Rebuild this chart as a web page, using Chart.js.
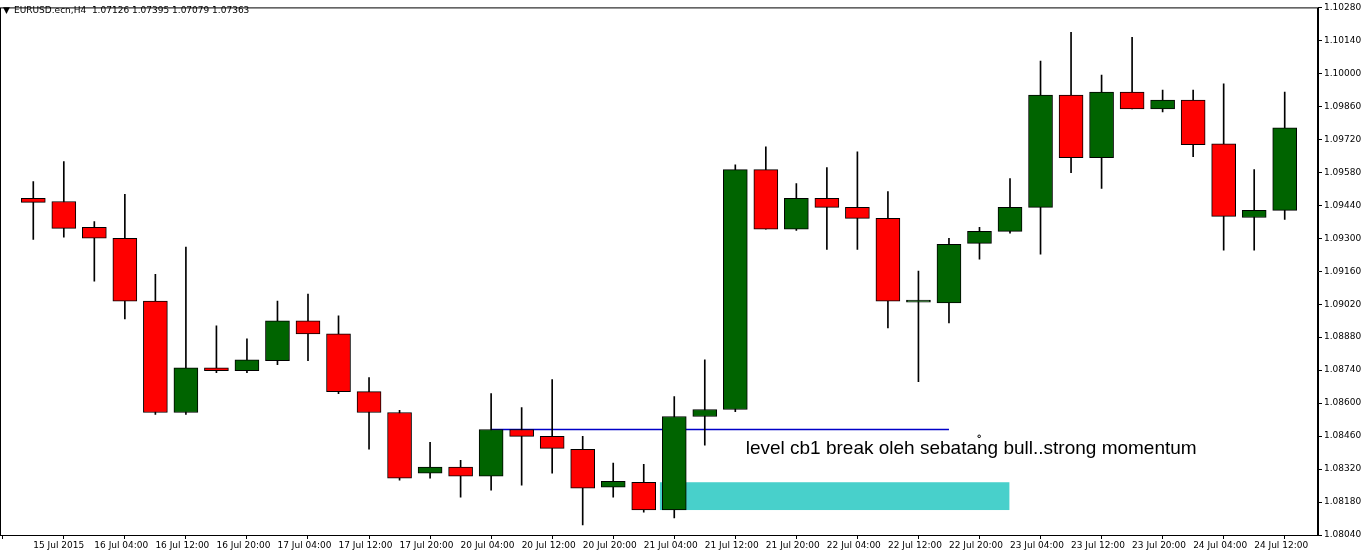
<!DOCTYPE html>
<html><head><meta charset="utf-8">
<script src="https://cdn.jsdelivr.net/npm/chart.js@4"></script>
<style>html,body{margin:0;padding:0;background:#fff}#w{width:1362px;height:557px}</style>
</head><body><div id="w"><canvas id="c"></canvas></div>
<script>
const openP  = [1.09469,1.09456,1.09346,1.09300,1.09033,1.08560,1.08750,1.08738,1.08780,1.08949,1.08894,1.08649,1.08560,1.08302,1.08328,1.08290,1.08488,1.08459,1.08404,1.08243,1.08264,1.08146,1.08543,1.08573,1.09591,1.09338,1.09469,1.09431,1.09384,1.09029,1.09025,1.09278,1.09329,1.09431,1.09908,1.09642,1.09921,1.09849,1.09887,1.09701,1.09388,1.09418];
const closeP = [1.09452,1.09342,1.09300,1.09033,1.08560,1.08750,1.08738,1.08784,1.08949,1.08894,1.08649,1.08560,1.08281,1.08328,1.08290,1.08488,1.08459,1.08408,1.08239,1.08268,1.08146,1.08543,1.08573,1.09591,1.09338,1.09469,1.09431,1.09384,1.09033,1.09033,1.09274,1.09329,1.09431,1.09908,1.09642,1.09921,1.09849,1.09887,1.09697,1.09393,1.09418,1.09769];
const highP  = [1.09540,1.09625,1.09371,1.09486,1.09147,1.09262,1.08928,1.08873,1.09033,1.09063,1.08970,1.08708,1.08569,1.08433,1.08357,1.08640,1.08581,1.08700,1.08459,1.08345,1.08340,1.08628,1.08784,1.09612,1.09688,1.09532,1.09600,1.09667,1.09498,1.09160,1.09300,1.09346,1.09553,1.10052,1.10174,1.09993,1.10153,1.09929,1.09929,1.09955,1.09591,1.09921];
const lowP   = [1.09295,1.09304,1.09118,1.08957,1.08552,1.08552,1.08729,1.08729,1.08763,1.08780,1.08640,1.08404,1.08273,1.08281,1.08201,1.08230,1.08252,1.08302,1.08083,1.08201,1.08137,1.08112,1.08421,1.08564,1.09338,1.09333,1.09253,1.09253,1.08919,1.08691,1.08940,1.09211,1.09321,1.09232,1.09578,1.09511,1.09849,1.09836,1.09646,1.09249,1.09249,1.09380];
const timeLabels = ["15 Jul 2015","16 Jul 04:00","16 Jul 12:00","16 Jul 20:00","17 Jul 04:00","17 Jul 12:00","17 Jul 20:00","20 Jul 04:00","20 Jul 12:00","20 Jul 20:00","21 Jul 04:00","21 Jul 12:00","21 Jul 20:00","22 Jul 04:00","22 Jul 12:00","22 Jul 20:00","23 Jul 04:00","23 Jul 12:00","23 Jul 20:00","24 Jul 04:00","24 Jul 12:00"];
const priceTicks = [1.08040,1.08180,1.08320,1.08460,1.08600,1.08740,1.08880,1.09020,1.09160,1.09300,1.09440,1.09580,1.09720,1.09860,1.10000,1.10140,1.10280];
const levelPrice = 1.08488, levelFrom = 15, levelTo = 30;
const zoneTop = 1.08264, zoneBottom = 1.08146, zoneFrom = 20.53, zoneTo = 31.98;
const noteText = "level cb1 break oleh sebatang bull..strong momentum";
const titleText = "EURUSD.ecn,H4  1.07126 1.07395 1.07079 1.07363";

const bodies = openP.map((o,i)=>({x:i,y:[o,closeP[i]]}));
const wicks = highP.map((h,i)=>({x:i,y:[lowP[i],h]}));
const bodyColors = openP.map((o,i)=>closeP[i]>=o?'#006400':'#ff0000');

const deco = {
  id:'deco',
  beforeDatasetsDraw(ch){
    const c=ch.ctx,x=ch.scales.x,y=ch.scales.y;
    c.save();
    c.fillStyle='#48d0cb';
    c.fillRect(x.getPixelForValue(zoneFrom),y.getPixelForValue(zoneTop),x.getPixelForValue(zoneTo)-x.getPixelForValue(zoneFrom),y.getPixelForValue(zoneBottom)-y.getPixelForValue(zoneTop));
    c.strokeStyle='#0000c8';c.lineWidth=1.5;
    const ly=Math.round(y.getPixelForValue(levelPrice))+0.5;
    c.beginPath();c.moveTo(x.getPixelForValue(levelFrom),ly);c.lineTo(x.getPixelForValue(levelTo),ly);c.stroke();
    c.restore();
  },
  afterDraw(ch){
    const c=ch.ctx,a=ch.chartArea,x=ch.scales.x,y=ch.scales.y;
    c.save();
    c.strokeStyle='#000';c.lineWidth=1;
    c.strokeRect(a.left+0.5,a.top+0.5,a.right-a.left-1,a.bottom-a.top);
    c.fillStyle='#000';c.font='19px "Liberation Sans", Arial';c.textBaseline='middle';
    c.fillText(noteText,x.getPixelForValue(23.34),y.getPixelForValue(1.08404));
    c.beginPath();c.arc(x.getPixelForValue(30.99),y.getPixelForValue(1.08459),1.3,0,Math.PI*2);c.stroke();
    c.font='9px "DejaVu Sans", Tahoma';c.textBaseline='middle';
    c.fillText('\u25BC',3,11);
    c.fillText(titleText,14,11);
    c.restore();
  }
};

new Chart(document.getElementById('c'),{
  type:'bar',
  data:{datasets:[
    {data:bodies,backgroundColor:bodyColors,borderColor:'#000',borderWidth:1,borderSkipped:false,barThickness:24,minBarLength:2,order:0},
    {data:wicks,backgroundColor:'#000',borderWidth:0,barThickness:1,order:1}
  ]},
  options:{
    responsive:true,maintainAspectRatio:false,animation:false,
    layout:{padding:{top:5,left:0,right:0,bottom:0}},
    plugins:{legend:{display:false},tooltip:{enabled:false}},
    datasets:{bar:{grouped:false}},
    scales:{
      x:{type:'linear',min:-0.0625,max:41.0625,
        afterBuildTicks(s){s.ticks=timeLabels.map((_,i)=>({value:i*2}));},
        afterFit(s){s.height=22;},
        grid:{drawOnChartArea:false,tickLength:4,color:'#000'},
        border:{display:true,color:'#000'},
        ticks:{align:'start',maxRotation:0,autoSkip:false,color:'#000',padding:1,font:{size:9,family:'"DejaVu Sans", Tahoma'},callback:(v)=>timeLabels[v/2]}},
      y:{position:'right',min:1.08040,max:1.10280,
        afterBuildTicks(s){s.ticks=priceTicks.map(v=>({value:v}));},
        afterFit(s){s.width=44;},
        grid:{drawOnChartArea:false,tickLength:4,color:'#000'},
        border:{display:true,color:'#000'},
        ticks:{color:'#000',padding:2,font:{size:9,family:'"DejaVu Sans", Tahoma'},callback:(v)=>v.toFixed(5)}}
    }
  },
  plugins:[deco]
});
</script></body></html>
